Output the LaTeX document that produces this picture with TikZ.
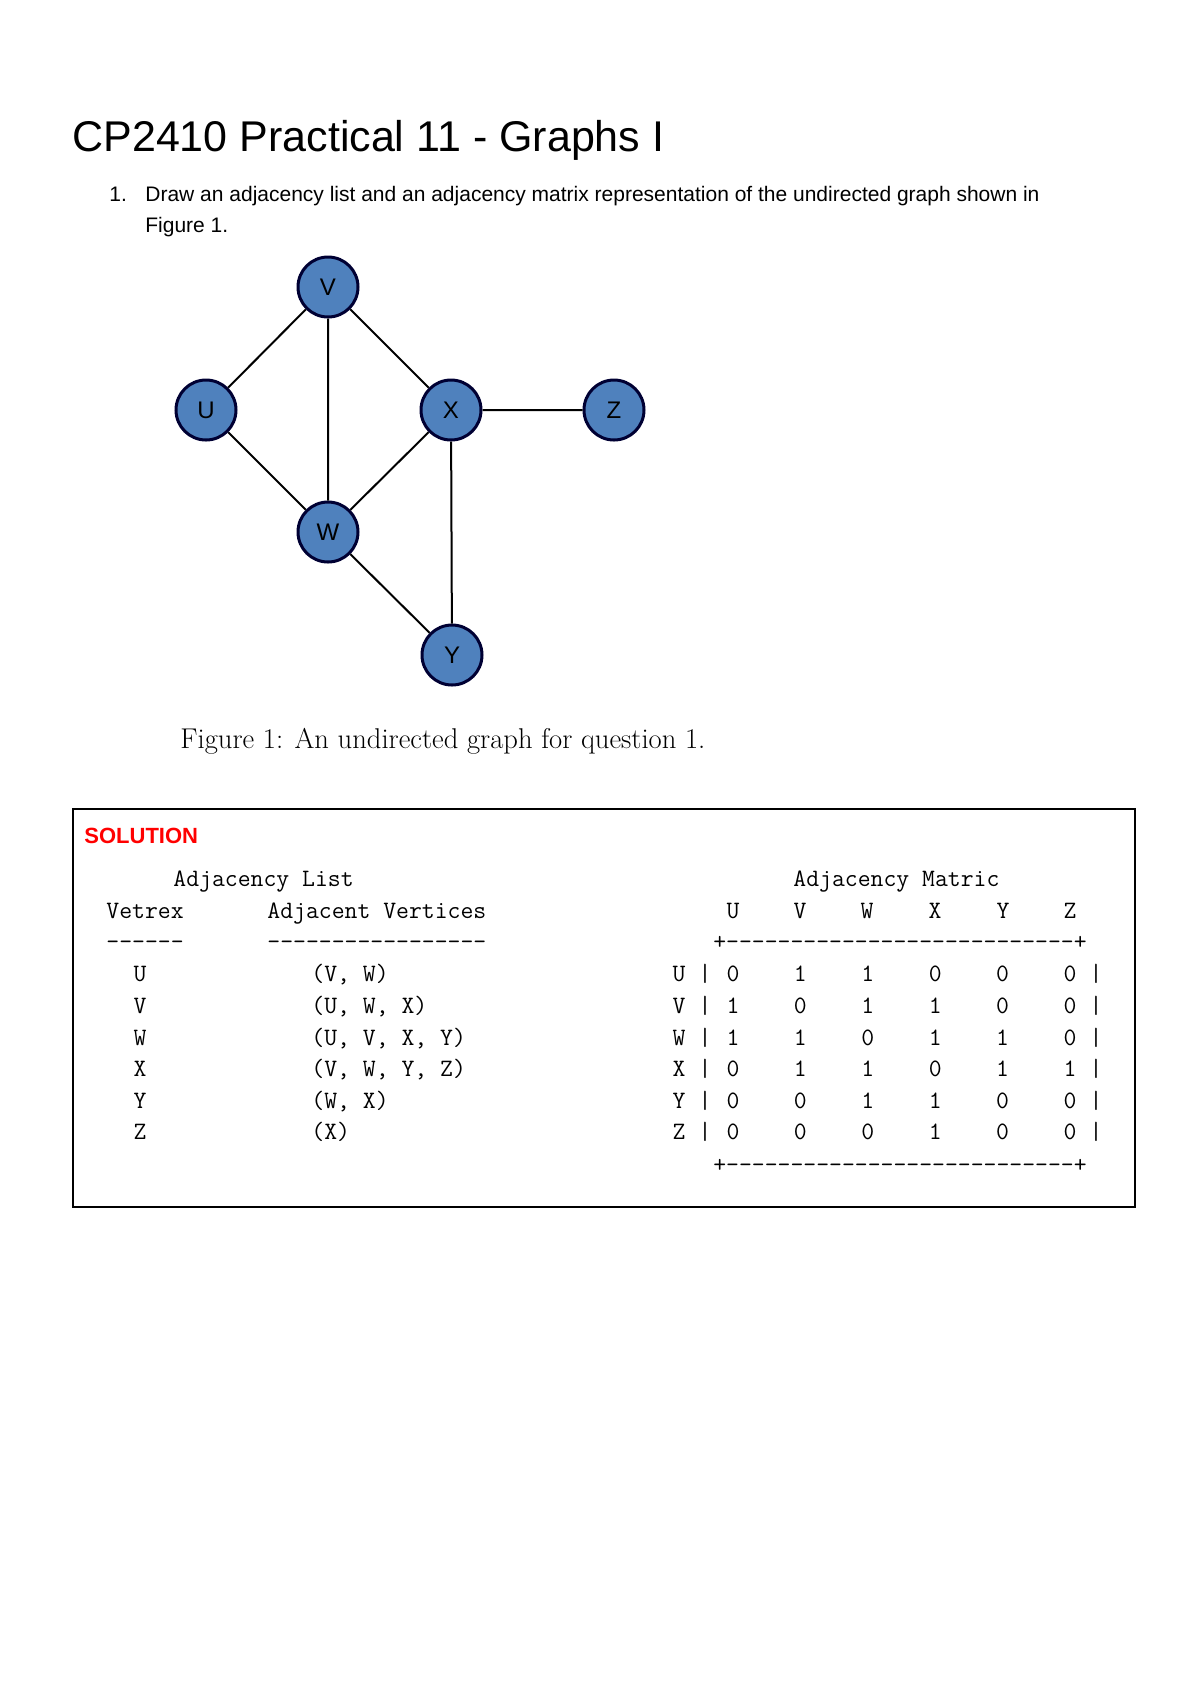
\documentclass[tikz,border=0pt]{standalone}
\usepackage{fontspec}
\setmainfont{Liberation Sans}
\newfontfamily\lmserif{Latin Modern Roman}
\newfontfamily\lmmono{Latin Modern Mono}
\begin{document}
\begin{tikzpicture}[x=0.5pt,y=-0.5pt,
  vtx/.style={circle,draw=black!80!blue,line width=1.5pt,fill=blue!45!cyan!60!black!80,fill=rgbnode,minimum size=30pt,inner sep=0pt,font=\fontsize{12}{14}\selectfont},
  edge/.style={line width=1pt},
  mono/.style={anchor=base west,inner sep=0pt,font=\lmmono\fontsize{12.5}{14}\selectfont},
  monoc/.style={anchor=base,inner sep=0pt,font=\lmmono\fontsize{12.5}{14}\selectfont}]
\definecolor{rgbnode}{HTML}{4F81BD}
\useasboundingbox (0,0) rectangle (1200,1699);
\node[anchor=base west,inner sep=0pt,font=\fontsize{21.5}{24}\selectfont] (title) at (72,151) {CP2410 Practical 11 - Graphs I};
\node[anchor=base west,inner sep=0pt,font=\fontsize{10.5}{12}\selectfont] (n1) at (109,201) {1.};
\node[anchor=base west,inner sep=0pt,font=\fontsize{10.5}{12}\selectfont] (q1) at (145,201) {Draw an adjacency list and an adjacency matrix representation of the undirected graph shown in};
\node[anchor=base west,inner sep=0pt,font=\fontsize{10.5}{12}\selectfont] (q2) at (145,232) {Figure 1.};
\node[vtx] (V) at (328,287) {V};
\node[vtx] (U) at (206,410) {U};
\node[vtx] (X) at (451,410) {X};
\node[vtx] (Z) at (614,410) {Z};
\node[vtx] (W) at (328,532) {W};
\node[vtx] (Y) at (452,655) {Y};
\draw[edge] (U)--(V) (V)--(W) (V)--(X) (U)--(W) (W)--(X) (X)--(Z) (X)--(Y) (W)--(Y);
\node[anchor=base west,inner sep=0pt,font=\lmserif\fontsize{14.3}{16}\selectfont] (cap) at (180,748) {Figure 1: An undirected graph for question 1.};
\draw[line width=1pt] (73,809) rectangle (1135,1207);
\node[anchor=base west,inner sep=0pt,text=red,font=\bfseries\fontsize{11}{13}\selectfont] (sol) at (84,843) {SOLUTION};
\node[mono] (al) at (173,886) {Adjacency List};
\node[mono] (am) at (793,886) {Adjacency Matric};
\node[mono] (vt) at (106,918) {Vetrex};
\node[mono] (av) at (267,918) {Adjacent Vertices};
\node[mono] (d1) at (106,949) {------};
\node[mono] (d2) at (267,949) {-----------------};
\node[monoc] (d3) at (900,949) {+---------------------------+};
\node[monoc] (d4) at (900,1172) {+---------------------------+};
\foreach \c/\x in {U/733,V/800,W/867,X/935,Y/1003,Z/1070} \node[monoc] (h\c) at (\x,918) {\c};
\foreach \r/\y/\l/\vals in {
  U/981/{(V, W)}/{0,1,1,0,0,0},
  V/1013/{(U, W, X)}/{1,0,1,1,0,0},
  W/1045/{(U, V, X, Y)}/{1,1,0,1,1,0},
  X/1076/{(V, W, Y, Z)}/{0,1,1,0,1,1},
  Y/1108/{(W, X)}/{0,0,1,1,0,0},
  Z/1139/{(X)}/{0,0,0,1,0,0}} {
  \node[monoc] (lr\r) at (140,\y) {\r};
  \node[mono] (ll\r) at (311,\y) {\l};
  \node[monoc] (mr\r) at (679,\y) {\r};
  \node[monoc] (b1\r) at (705,\y) {|};
  \node[monoc] (b2\r) at (1096,\y) {|};
  \foreach \v [count=\i] in \vals {
    \pgfmathsetmacro\xx{733+(\i-1)*67.4}
    \node[monoc] (m\r\i) at (\xx,\y) {\v};
  }
}
\end{tikzpicture}
\end{document}
